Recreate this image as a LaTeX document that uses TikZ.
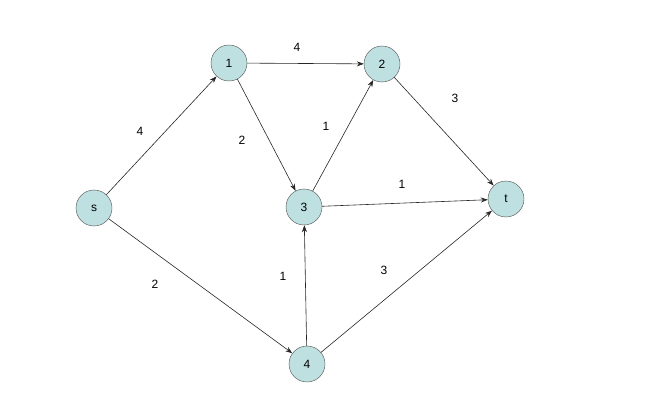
\documentclass[tikz,border=0pt]{standalone}
\usepackage{fontspec}
\setmainfont{Liberation Sans}
\usetikzlibrary{arrows.meta}
\definecolor{nodefill}{HTML}{BFE0E0}
\begin{document}
\begin{tikzpicture}[x=1pt,y=-1pt,
  vtx/.style={circle,draw=black!70,fill=nodefill,minimum size=36pt,inner sep=0pt,font=\fontsize{12}{12}\selectfont},
  edge/.style={-{Stealth[length=7pt,width=5pt]},black!85,line width=0.6pt},
  lab/.style={font=\fontsize{12}{12}\selectfont}]
\useasboundingbox (0,0) rectangle (645,417);
\node[vtx] (s) at (94,208) {s};
\node[vtx] (n1) at (229,63) {1};
\node[vtx] (n2) at (382,64) {2};
\node[vtx] (n3) at (304,207) {3};
\node[vtx] (t) at (506,199) {t};
\node[vtx] (n4) at (307,364) {4};
\draw[edge] (s) -- (n1);
\draw[edge] (s) -- (n4);
\draw[edge] (n1) -- (n2);
\draw[edge] (n1) -- (n3);
\draw[edge] (n3) -- (n2);
\draw[edge] (n2) -- (t);
\draw[edge] (n3) -- (t);
\draw[edge] (n4) -- (n3);
\draw[edge] (n4) -- (t);
\node[lab] (l1) at (297,47) {4};
\node[lab] (l2) at (140,131) {4};
\node[lab] (l3) at (242,140) {2};
\node[lab] (l4) at (326,126) {1};
\node[lab] (l5) at (455,98) {3};
\node[lab] (l6) at (402,184) {1};
\node[lab] (l7) at (283,276) {1};
\node[lab] (l8) at (384,270) {3};
\node[lab] (l9) at (155,284) {2};
\end{tikzpicture}
\end{document}
